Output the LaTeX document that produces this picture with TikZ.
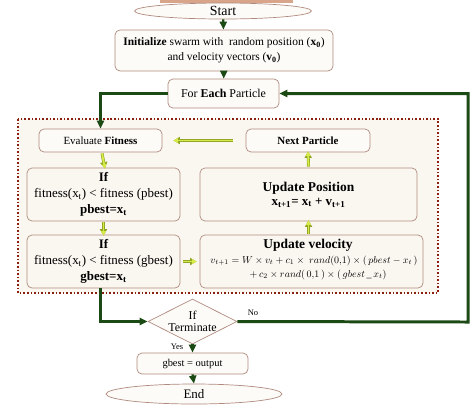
\documentclass[tikz,border=0pt]{standalone}
\usepackage{fontspec}
\setmainfont{Liberation Serif}
\usetikzlibrary{shapes.geometric,arrows.meta}
\definecolor{boxline}{HTML}{B08A7E}
\definecolor{boxfill}{HTML}{FDFBF8}
\definecolor{panelfill}{HTML}{FAF7F1}
\definecolor{dotred}{HTML}{8B2010}
\definecolor{dgreen}{HTML}{1C4A14}
\definecolor{yfill}{HTML}{D8EA48}
\definecolor{yline}{HTML}{8FA626}
\definecolor{topbar}{HTML}{D9A58A}
\tikzset{
  box/.style={draw=boxline, fill=boxfill, rounded corners=5bp, line width=0.7pt, inner sep=0pt, align=center},
  oval/.style={ellipse, draw=boxline, fill=boxfill, line width=0.7pt, inner sep=0pt},
  garrow/.style={draw=dgreen, line width=2.2pt, -{Triangle[length=8bp,width=7bp]}},
  yarrow/.style={draw=yfill, line width=1.8pt, -{Triangle[length=4.5bp,width=4.6bp]},
    preaction={draw=yline, line width=3pt, -{Triangle[length=6.5bp,width=7bp]}}},
  inner/.style={inner sep=0pt, align=center},
}
\begin{document}
\begin{tikzpicture}[x=1bp,y=-1bp]
\useasboundingbox (0,0) rectangle (474,408);
% top bar (cut-off)
\fill[topbar] (160,0) rectangle (293,3);
% panel
\draw[dotred, dotted, line width=1.6pt, fill=panelfill] (18,119) rectangle (438,293);
% nodes
\node[oval, minimum width=177bp, minimum height=16bp, font=\fontsize{14}{14}\selectfont] (start) at (223,11) {Start};
\node[box, minimum width=218bp, minimum height=41bp, font=\fontsize{11.5}{15}\selectfont] (init) at (224,50.5)
  {\textbf{Initialize} swarm with\ \ random position (\textbf{x\textsubscript{0}})\\and velocity vectors (\textbf{v\textsubscript{0}})};
\node[box, minimum width=111bp, minimum height=29bp, font=\fontsize{12}{13}\selectfont] (each) at (223.5,93.5) {For \textbf{Each} Particle};
\node[box, minimum width=123bp, minimum height=23bp, font=\fontsize{11}{12}\selectfont] (eval) at (100.5,140.5) {Evaluate \textbf{Fitness}};
\node[box, minimum width=124bp, minimum height=23bp, font=\fontsize{11}{12}\selectfont] (next) at (308,140.5) {\textbf{Next Particle}};
\node[box, minimum width=153bp, minimum height=53bp, font=\fontsize{13}{16}\selectfont, fill=panelfill] (pbest) at (103.5,194.5)
  {\textbf{If}\\fitness(x\textsubscript{t}) < fitness (pbest)\\\textbf{pbest=x\textsubscript{t}}};
\node[box, minimum width=153bp, minimum height=53bp, font=\fontsize{13}{16}\selectfont, fill=panelfill] (gbest) at (103.5,261.5)
  {\textbf{If}\\fitness(x\textsubscript{t}) < fitness (gbest)\\\textbf{gbest=x\textsubscript{t}}};
\node[box, minimum width=217bp, minimum height=53bp, fill=panelfill] (pos) at (308.5,194.5)
  {\fontsize{13.5}{15}\selectfont\textbf{Update Position}\\[2pt]\fontsize{13}{14}\selectfont\textbf{x\textsubscript{t+1}= x\textsubscript{t} + v\textsubscript{t+1}}};
\node[box, minimum width=223bp, minimum height=53bp, fill=panelfill] (vel) at (311.5,261.5) {};
\node[inner, font=\fontsize{13.5}{14}\selectfont] (veltitle) at (308,245) {\textbf{Update velocity}};
\node[inner, font=\fontsize{10}{12}\selectfont] (velf1) at (314,261) {$v_{t+1}=W\times v_t+c_1\times\ rand(0{,}1)\times(\,pbest-x_t\,)$};
\node[inner, font=\fontsize{10}{12}\selectfont] (velf2) at (318,275) {$+\,c_2\times rand(\,0{,}1\,)\times(\,gbest\,\_\,x_t)$};
\node[diamond, draw=boxline, fill=boxfill, line width=0.7pt, inner sep=0pt, aspect=2, minimum width=89bp, minimum height=45bp] (term) at (192.5,321.5) {};
\node[inner, font=\fontsize{12}{12}\selectfont] (termtext) at (term) {If\\Terminate};
\node[box, minimum width=111bp, minimum height=21bp, font=\fontsize{10.5}{12}\selectfont] (out) at (192.5,363.5) {gbest = output};
\node[oval, minimum width=176bp, minimum height=20bp, font=\fontsize{13}{13}\selectfont] (end) at (194,394) {End};
\node[font=\fontsize{8.5}{9}\selectfont] (no) at (253,313) {No};
\node[font=\fontsize{8.5}{9}\selectfont] (yes) at (177,347) {Yes};
\coordinate (rc) at (468,322);
% green connectors
\draw[garrow, line width=2.4pt] (start) -- (init);
\draw[garrow, line width=2.4pt] (init) -- (each);
\draw[garrow, line width=2.6pt] (each.west) -| (eval.north);
\draw[garrow, line width=3pt] (gbest.south -| eval.south) |- (term.west);
\draw[garrow, line width=3pt] (term.east) -- (rc) |- (each.east);
\draw[garrow] (term.south) -- (out.north);
\draw[garrow] (out.south) -- (end.north);
% yellow connectors
\draw[yarrow] (next.west) ++(-13,0) -- ([xshift=11bp]eval.east);
\draw[yarrow] (eval.south) ++(1.5,1) -- ([xshift=1.5bp,yshift=-1bp]pbest.north);
\draw[yarrow] (pbest.south) ++(0,1) -- ([yshift=-1bp]gbest.north);
\draw[yarrow] ([xshift=3bp]gbest.east) -- ([xshift=-3bp]vel.west);
\draw[yarrow] (pos.south |- vel.north) ++(0,-1) -- ([yshift=1bp]pos.south);
\draw[yarrow] (pos.north) ++(0,-1) -- ([yshift=1bp]next.south);
\end{tikzpicture}
\end{document}
